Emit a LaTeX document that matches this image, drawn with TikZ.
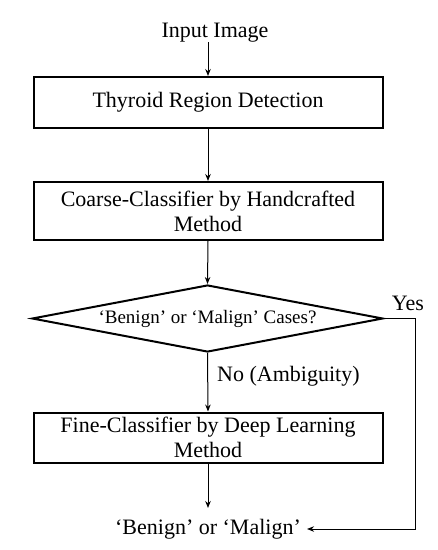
\documentclass[tikz,border=0pt]{standalone}
\usepackage{fontspec}
\setmainfont{Liberation Serif}
\usetikzlibrary{arrows.meta,shapes.geometric}
\begin{document}
\begin{tikzpicture}[x=1pt,y=-1pt,
  box/.style={draw,line width=2pt,minimum width=349pt,align=center,font=\fontsize{22}{25}\selectfont,inner sep=0pt},
  lab/.style={font=\fontsize{22}{25}\selectfont,inner sep=0pt},
  arr/.style={-{Stealth[length=7pt,width=5.5pt]},line width=1pt}]
\useasboundingbox (0,0) rectangle (438,550);
\node[lab] (in) at (215,32.5) {Input Image};
\node[box,minimum height=51pt] (b1) at (208,102.5) {Thyroid Region Detection};
\node[box,minimum height=58pt] (b2) at (208,211) {Coarse-Classifier by Handcrafted\\Method};
\node[draw,shape=diamond,aspect=5.2,line width=2pt,minimum width=351pt,minimum height=67pt,inner sep=0pt,font=\fontsize{19}{22}\selectfont] (d) at (207.5,318.5) {‘Benign’ or ‘Malign’ Cases?};
\node[box,minimum height=50pt] (b3) at (208,437.5) {Fine-Classifier by Deep Learning\\Method};
\node[lab] (out) at (208,529) {‘Benign’ or ‘Malign’};
\node[lab,anchor=west] (no) at (217,376) {No (Ambiguity)};
\node[lab] (yes) at (408,303) {Yes};
\coordinate (c) at (415,318.5);
\draw[arr] (208,42) -- (b1.north);
\draw[arr] (b1.south) -- (b2.north);
\draw[arr] (b2.south) -- (d.north);
\draw[arr] (d.south) -- (b3.north);
\draw[arr] (b3.south) -- (208,508);
\draw[arr] (d.east) -- (c) |- ([xshift=6pt]out.east);
\end{tikzpicture}
\end{document}
